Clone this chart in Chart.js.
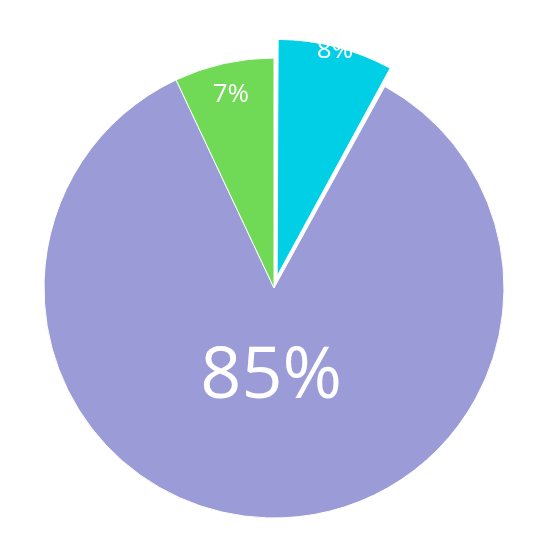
<!DOCTYPE html>
<html>
<head>
<meta charset="utf-8">
<script src="https://cdn.jsdelivr.net/npm/chart.js@4"></script>
<style>
html, body { margin: 0; padding: 0; background: #fff; }
#wrap { width: 540px; height: 539px; }
</style>
</head>
<body>
<div id="wrap"><canvas id="myChart"></canvas></div>
<script>
const labels = ['A', 'B', 'C']
const values = [8, 85, 7]
const colors = ['#00cfe5', '#9b9bd7', '#70d955']

// label placement: fraction of radius and font size per slice
const labelDist = [0.85, 0.39, 0.86]
const labelSize = [26, 72, 26]

const pieLabels = {
    id: 'pieLabels',
    afterDatasetsDraw(chart) {
        const ctx = chart.ctx
        const meta = chart.getDatasetMeta(0)
        meta.data.forEach((arc, i) => {
            const p = arc.getProps(['x', 'y', 'startAngle', 'endAngle', 'outerRadius'], true)
            const mid = (p.startAngle + p.endAngle) / 2
            const off = arc.options.offset || 0
            const r = p.outerRadius * labelDist[i] + off
            const x = p.x + Math.cos(mid) * r
            const y = p.y + Math.sin(mid) * r
            ctx.save()
            ctx.fillStyle = '#fff'
            ctx.font = labelSize[i] + 'px "Open Sans", sans-serif'
            ctx.textAlign = 'center'
            ctx.textBaseline = 'middle'
            ctx.fillText(values[i] + '%', x, y)
            ctx.restore()
        })
    }
}

new Chart(document.getElementById('myChart'), {
    type: 'pie',
    data: {
        labels: labels,
        datasets: [{
            data: values,
            backgroundColor: colors,
            borderColor: '#fff',
            borderWidth: 1,
            offset: [50, 0, 0],
            clip: false
        }]
    },
    options: {
        responsive: true,
        maintainAspectRatio: false,
        animation: false,
        radius: 230,
        layout: { padding: { left: 8, right: 0, top: 37, bottom: 0 } },
        plugins: { legend: { display: false }, tooltip: { enabled: false } }
    },
    plugins: [pieLabels]
})
</script>
</body>
</html>
